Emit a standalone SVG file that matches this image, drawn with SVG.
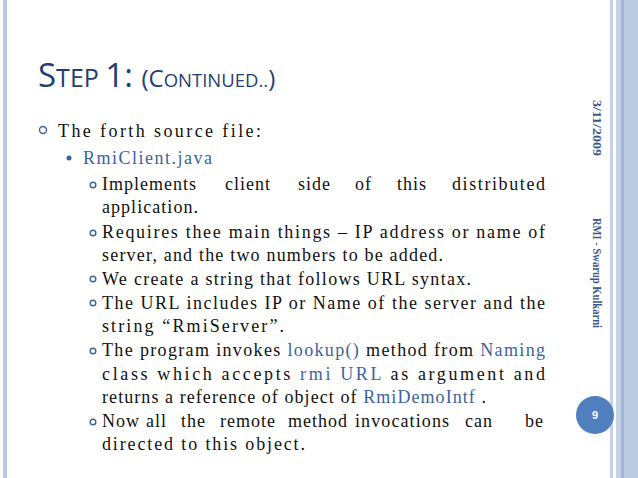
<svg xmlns="http://www.w3.org/2000/svg" width="638" height="478" viewBox="0 0 638 478">
<style>
.b{font-family:"Liberation Serif","DejaVu Serif",serif;font-size:18px;letter-spacing:1px;fill:#111}
.h{fill:#3a64a0}
.t{font-family:"Open Sans","Liberation Sans",sans-serif;fill:#1f3f73}
.side{font-family:"Liberation Serif",serif;font-size:11.5px;font-weight:bold;fill:#3a5a8c}
.cb{fill:none;stroke:#3a64a0;stroke-width:1.4}
</style>
<rect width="638" height="478" fill="#fff"/>
<rect x="3" y="0" width="4" height="478" fill="#b9c8e0"/>
<g id="rightband">
<rect x="610" y="0" width="3" height="478" fill="#c5d2e6"/>
<rect x="616" y="0" width="5" height="478" fill="#c5d2e6"/>
<rect x="621" y="0" width="3" height="478" fill="#9fb4d6"/>
<rect x="624" y="0" width="14" height="478" fill="#bccbe2"/>
</g>
<g id="title">
<text x="38" y="87" class="t"><tspan font-size="33">S</tspan><tspan font-size="25">TEP </tspan><tspan font-size="33">1: </tspan><tspan font-size="24">(C</tspan><tspan font-size="18.5">ONTINUED..</tspan><tspan font-size="24">)</tspan></text>
</g>
<g id="body">
<circle cx="43" cy="130" r="3.5" class="cb"/>
<text x="58" y="137" class="b" font-size="21" textLength="204" lengthAdjust="spacing">The forth source file:</text>
<circle cx="69" cy="158" r="2.5" fill="#3a64a0"/>
<text x="83" y="164" class="b h" font-size="18.5" textLength="130" lengthAdjust="spacing">RmiClient.java</text>
<g class="cb"><circle cx="93" cy="185" r="2.8"/><circle cx="93" cy="233" r="2.8"/><circle cx="93" cy="279" r="2.8"/><circle cx="93" cy="303" r="2.8"/><circle cx="93" cy="351" r="2.8"/><circle cx="93" cy="422" r="2.8"/></g>
<text y="190" class="b"><tspan x="102">Implements</tspan><tspan x="225">client</tspan><tspan x="298">side</tspan><tspan x="355">of</tspan><tspan x="397">this</tspan><tspan x="452" textLength="94" lengthAdjust="spacing">distributed</tspan></text>
<text x="102" y="213" class="b" textLength="97" lengthAdjust="spacing">application.</text>
<text x="102" y="238" class="b" textLength="444" lengthAdjust="spacing">Requires thee main things – IP address or name of</text>
<text x="102" y="261" class="b" textLength="342" lengthAdjust="spacing">server, and the two numbers to be added.</text>
<text x="102" y="285" class="b" textLength="370" lengthAdjust="spacing">We create a string that follows URL syntax.</text>
<text x="102" y="309" class="b" textLength="444" lengthAdjust="spacing">The URL includes IP or Name of the server and the</text>
<text x="102" y="332" class="b" textLength="183" lengthAdjust="spacing">string “RmiServer”.</text>
<text x="102" y="356" class="b" textLength="444" lengthAdjust="spacing">The program invokes <tspan class="h">lookup()</tspan> method from <tspan class="h">Naming</tspan></text>
<text x="102" y="380" class="b" textLength="444" lengthAdjust="spacing">class which accepts <tspan class="h">rmi URL</tspan> as argument and</text>
<text x="102" y="403" class="b" textLength="385" lengthAdjust="spacing">returns a reference of object of <tspan class="h">RmiDemoIntf</tspan> .</text>
<text y="427" class="b"><tspan x="102">Now</tspan><tspan x="146">all</tspan><tspan x="181">the</tspan><tspan x="220">remote</tspan><tspan x="288">method</tspan><tspan x="355" textLength="95" lengthAdjust="spacing">invocations</tspan><tspan x="465">can</tspan><tspan x="525">be</tspan></text>
<text x="102" y="450" class="b" textLength="204" lengthAdjust="spacing">directed to this object.</text>
</g>
<g id="footer">
<text class="side" transform="translate(593,100) rotate(90)" textLength="56" lengthAdjust="spacingAndGlyphs">3/11/2009</text>
<text class="side" transform="translate(593,218) rotate(90)" textLength="110" lengthAdjust="spacingAndGlyphs">RMI - Swarup Kulkarni</text>
<circle cx="595" cy="415" r="19" fill="#4f7fbf"/>
<text x="595" y="419" text-anchor="middle" font-family="Liberation Sans,sans-serif" font-size="11" font-weight="bold" fill="#fff">9</text>
</g>
</svg>
